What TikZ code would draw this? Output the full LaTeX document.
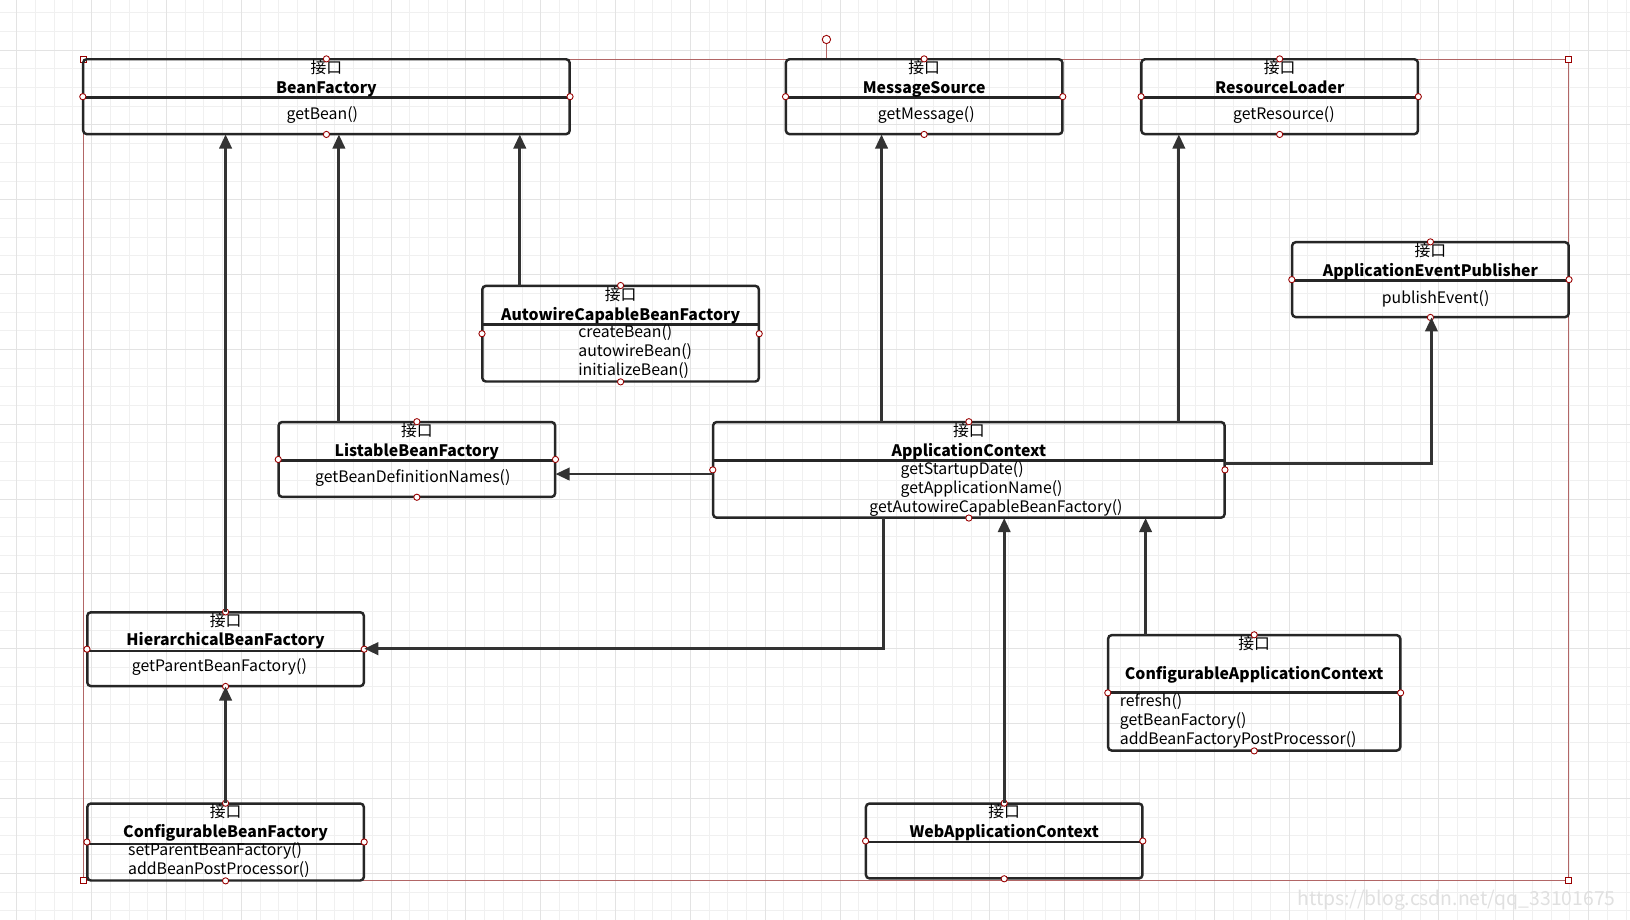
\documentclass[tikz,border=0pt]{standalone}
\usepackage{fontspec}
\setmainfont{Noto Sans CJK SC}
\usetikzlibrary{fit,arrows.meta}
\begin{document}
\begin{tikzpicture}[x=0.02079cm,y=-0.02079cm,
  font=\fontsize{9}{10}\selectfont,
  boxline/.style={draw=black!85,line width=1.4pt,rounded corners=2pt},
  arr/.style={draw=black!80,line width=1.6pt,-{Triangle[length=8pt,width=7pt]}},
  hnd/.style={draw=red!60!black,fill=white,line width=0.5pt},
  ttl/.style={inner sep=0pt,anchor=base},
  mth/.style={inner sep=0pt,align=left,font=\fontsize{9}{10.8}\selectfont}]
\useasboundingbox (0,0) rectangle (1568,885);
\fill[white] (0,0) rectangle (1568,885);
\foreach \i in {0,...,87} {\draw[black!6,line width=0.4pt] (\i*18-2,0) -- (\i*18-2,885);}
\foreach \i in {0,...,49} {\draw[black!6,line width=0.4pt] (0,\i*18+12) -- (1568,\i*18+12);}
\foreach \i in {0,...,21} {\draw[black!11,line width=0.4pt] (\i*72+16,0) -- (\i*72+16,885);}
\foreach \i in {0,...,12} {\draw[black!11,line width=0.4pt] (0,\i*72+48) -- (1568,\i*72+48);}
% selection frame
\draw[red!50!black!60,line width=0.5pt] (80,57) rectangle (1509,847);
\draw[red!50!black!60,line width=0.5pt] (795,42) -- (795,57);
\draw[hnd] (795,38) circle (4);
\foreach \p in {(80,57),(1509,57),(80,847),(1509,847)} {\draw[hnd] \p ++(-3,-3) rectangle ++(6,6);}
\newcommand\ubox[8]{%
  \draw[boxline] (#2,#3) rectangle (#4,#5);
  \draw[black!85,line width=1.4pt] (#2,#6) -- (#4,#6);
  \node[inner sep=0pt,fit={(#2,#3) (#4,#5)}] (#1) {};
  \node[ttl] at ($(#1.north)+(0,14)$) {接口};
  \node[ttl,font=\fontsize{9}{10}\selectfont\bfseries] at (#1.center |- 0,#7) {#8};
  \foreach \a in {north,south,east,west} {\draw[hnd] (#1.\a) circle (3);}
}
\usetikzlibrary{calc}
\ubox{bf}{80}{57}{548}{129}{94}{90}{BeanFactory}
\node[mth] at (310,111) {getBean()};
\ubox{ms}{756}{57}{1022}{129}{94}{90}{MessageSource}
\node[mth] at (891,111) {getMessage()};
\ubox{rl}{1098}{57}{1364}{129}{94}{90}{ResourceLoader}
\node[mth] at (1235,111) {getResource()};
\ubox{aep}{1243}{233}{1509}{305}{270}{266}{ApplicationEventPublisher}
\node[mth] at (1381,287) {publishEvent()};
\ubox{acbf}{464}{275}{730}{367}{312}{308}{AutowireCapableBeanFactory}
\node[mth,anchor=north west] at (556,312) {createBean()\\autowireBean()\\initializeBean()};
\ubox{lbf}{268}{406}{534}{478}{443}{439}{ListableBeanFactory}
\node[mth] at (397,460) {getBeanDefinitionNames()};
\ubox{ac}{686}{406}{1178}{498}{443}{439}{ApplicationContext}
\node[mth,anchor=north west] at (866,444) {getStartupDate()\\getApplicationName()};
\node[mth,anchor=north west] at (836,480) {getAutowireCapableBeanFactory()};
\ubox{hbf}{84}{589}{350}{660}{626}{621}{HierarchicalBeanFactory}
\node[mth] at (211,642) {getParentBeanFactory()};
\ubox{cbf}{84}{773}{350}{847}{812}{806}{ConfigurableBeanFactory}
\node[mth,anchor=north west] at (123,810) {setParentBeanFactory()\\addBeanPostProcessor()};
\ubox{wac}{833}{773}{1099}{845}{810}{806}{WebApplicationContext}
\ubox{cac}{1066}{611}{1347}{722}{666}{654}{ConfigurableApplicationContext}
\node[mth,anchor=north west] at (1077,667) {refresh()\\getBeanFactory()\\addBeanFactoryPostProcessor()};
% arrows
\draw[arr] (hbf.north) -- (hbf.north |- bf.south);
\draw[arr] (lbf.north -| 326,0) -- (bf.south -| 326,0);
\draw[arr] (acbf.north -| 500,0) -- (bf.south -| 500,0);
\draw[arr] (ac.north -| 848,0) -- (ms.south -| 848,0);
\draw[arr] (ac.north -| 1134,0) -- (rl.south -| 1134,0);
\draw[arr] (ac.east |- 0,446) -- (1377,446) -- (aep.south -| 1377,0);
\draw[arr] (ac.west |- 0,456) -- (lbf.east |- 0,456);
\draw[arr] (ac.south -| 850,0) -- (850,624) -- (hbf.east |- 0,624);
\draw[arr] (wac.north -| 966,0) -- (ac.south -| 966,0);
\draw[arr] (cac.north -| 1102,0) -- (ac.south -| 1102,0);
\draw[arr] (cbf.north) -- (hbf.south);
\node[text=black!12,font=\fontsize{11}{12}\selectfont,anchor=east] at (1560,866) {https://blog.csdn.net/qq\_33101675};
\end{tikzpicture}
\end{document}
